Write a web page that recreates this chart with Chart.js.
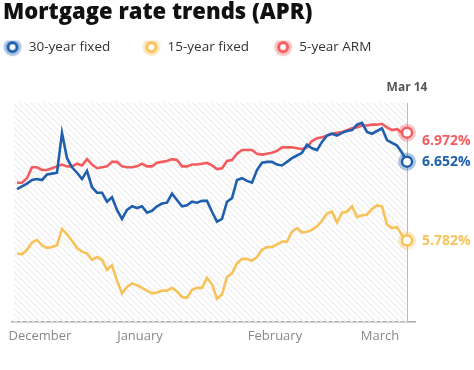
<!DOCTYPE html>
<html>
<head>
<meta charset="utf-8">
<script src="https://cdn.jsdelivr.net/npm/chart.js@4"></script>
<style>
  html, body { margin: 0; padding: 0; background: #fff; }
  #wrap { width: 474px; height: 370px; }
</style>
</head>
<body>
<div id="wrap"><canvas id="rates"></canvas></div>
<script>
// business days from Dec 1 to Mar 14
const rate30 = [6.35,6.38,6.41,6.45,6.46,6.45,6.51,6.52,6.53,6.97,
  6.69,6.59,6.53,6.46,6.55,6.37,6.31,6.31,6.21,6.26,
  6.12,6.02,6.12,6.16,6.14,6.16,6.09,6.11,6.16,6.19,
  6.20,6.30,6.23,6.16,6.17,6.21,6.20,6.22,6.22,6.10,
  5.99,6.02,6.21,6.25,6.45,6.47,6.44,6.42,6.56,6.64,
  6.65,6.65,6.62,6.61,6.65,6.69,6.72,6.75,6.84,6.80,
  6.78,6.87,6.94,6.96,6.94,6.97,6.99,7.00,7.06,7.08,
  6.98,6.96,6.99,7.02,6.89,6.86,6.83,6.75,6.652]
const rate15 = [5.64,5.63,5.68,5.76,5.79,5.73,5.70,5.71,5.73,5.91,
  5.85,5.78,5.70,5.66,5.64,5.57,5.60,5.57,5.46,5.51,
  5.34,5.20,5.27,5.31,5.29,5.26,5.23,5.20,5.21,5.23,
  5.23,5.26,5.22,5.16,5.15,5.24,5.26,5.26,5.37,5.30,
  5.14,5.19,5.38,5.42,5.53,5.58,5.58,5.56,5.60,5.68,
  5.71,5.71,5.74,5.77,5.77,5.88,5.92,5.87,5.88,5.90,
  5.94,6.00,6.08,6.10,5.98,6.09,6.10,6.16,6.04,6.06,
  6.07,6.13,6.17,6.16,5.96,5.92,5.93,5.84,5.782]
const rateArm = [6.42,6.42,6.47,6.59,6.59,6.56,6.56,6.58,6.60,6.62,
  6.60,6.60,6.63,6.61,6.68,6.62,6.58,6.59,6.60,6.65,
  6.65,6.60,6.59,6.59,6.60,6.63,6.60,6.60,6.64,6.65,
  6.66,6.68,6.67,6.60,6.60,6.62,6.62,6.63,6.64,6.61,
  6.57,6.58,6.66,6.67,6.74,6.78,6.78,6.78,6.74,6.73,
  6.74,6.75,6.77,6.81,6.81,6.81,6.80,6.79,6.81,6.88,
  6.91,6.92,6.94,6.96,6.97,6.98,7.00,7.02,7.03,7.05,
  7.05,7.06,7.06,7.07,7.03,7.00,7.01,6.97,6.972]
const days = rate30.map((v, i) => i)
const monthNames = ['December', 'January', 'February', 'March']
const monthAt = [4.6, 24.6, 51.6, 72.6]
const lastLabel = 'Mar 14'
const seriesNames = ['30-year fixed', '15-year fixed', '5-year ARM']
const colors = ['#1f5fae', '#f8c25a', '#f25c5e']
const last = days.length - 1

function makeDot(color){
  const c = document.createElement('canvas')
  c.width = 20
  c.height = 20
  const g = c.getContext('2d')
  g.globalAlpha = 0.35
  g.fillStyle = color
  g.beginPath(); g.arc(10, 10, 9, 0, 2 * Math.PI); g.fill()
  g.globalAlpha = 1
  g.lineWidth = 3
  g.strokeStyle = color
  g.fillStyle = '#fff'
  g.beginPath(); g.arc(10, 10, 4.5, 0, 2 * Math.PI); g.fill(); g.stroke()
  return c
}
const dots = colors.map(makeDot)
const gaps = ['         ', '       ', '']

function hatch(){
  const c = document.createElement('canvas')
  c.width = 6
  c.height = 6
  const g = c.getContext('2d')
  g.strokeStyle = '#f0f0f0'
  g.lineWidth = 1.5
  g.beginPath()
  g.moveTo(-1, -1); g.lineTo(7, 7)
  g.moveTo(-4, 2); g.lineTo(4, 10)
  g.moveTo(2, -4); g.lineTo(10, 4)
  g.stroke()
  return c
}

const backdrop = {
  id: 'backdrop',
  beforeDatasetsDraw(chart){
    const {ctx, chartArea, scales} = chart
    const xEnd = scales.x.getPixelForValue(last)
    ctx.save()
    ctx.fillStyle = ctx.createPattern(hatch(), 'repeat')
    ctx.fillRect(chartArea.left + 2, chartArea.top, xEnd - chartArea.left - 2, chartArea.bottom - chartArea.top)
    ctx.strokeStyle = '#bbb'
    ctx.lineWidth = 1
    ctx.beginPath()
    ctx.moveTo(Math.round(xEnd) + 0.5, chartArea.top)
    ctx.lineTo(Math.round(xEnd) + 0.5, chartArea.bottom)
    ctx.stroke()
    chart.data.datasets.forEach((ds, i) => {
      const pt = chart.getDatasetMeta(i).data[last]
      ctx.globalAlpha = 0.35
      ctx.fillStyle = ds.borderColor
      ctx.beginPath(); ctx.arc(pt.x, pt.y, 9, 0, 2 * Math.PI); ctx.fill()
    })
    ctx.restore()
  },
  afterDatasetsDraw(chart){
    const {ctx} = chart
    const nudge = [0, 0, 8]
    ctx.save()
    ctx.font = 'bold 14px "Open Sans"'
    ctx.textBaseline = 'middle'
    ctx.textAlign = 'left'
    chart.data.datasets.forEach((ds, i) => {
      const pt = chart.getDatasetMeta(i).data[last]
      ctx.fillStyle = ds.borderColor
      ctx.fillText(ds.data[last].toFixed(3) + '%', pt.x + 15, pt.y + nudge[i])
    })
    ctx.restore()
  }
}

new Chart('rates', {
  type: 'line',
  data: {
    labels: days,
    datasets: [rate30, rate15, rateArm].map((d, i) => ({
      label: seriesNames[i],
      data: d,
      borderColor: colors[i],
      borderWidth: 2.6,
      tension: 0,
      order: [0, 2, 1][i],
      pointRadius: ctx => ctx.dataIndex === last ? 5 : 0,
      pointBorderWidth: 2.5,
      pointBackgroundColor: '#fff',
      pointBorderColor: colors[i]
    }))
  },
  options: {
    maintainAspectRatio: false,
    animation: false,
    events: [],
    layout: { padding: { left: 3, right: 59, top: 0, bottom: 18 } },
    plugins: {
      title: {
        display: true,
        text: 'Mortgage rate trends (APR)',
        align: 'start',
        color: '#111',
        font: { family: '"Open Sans"', size: 22, weight: 800 },
        padding: { top: 0, bottom: 14 }
      },
      legend: {
        align: 'start',
        labels: {
          usePointStyle: true,
          pointStyleWidth: 19,
          padding: 0,
          color: '#333',
          font: { family: '"Open Sans"', size: 13.5 },
          generateLabels: chart => chart.data.datasets.map((ds, i) => ({
            text: ds.label + gaps[i],
            pointStyle: dots[i],
            fillStyle: '#fff',
            strokeStyle: ds.borderColor,
            lineWidth: 0,
            hidden: false,
            datasetIndex: i,
            fontColor: '#333'
          }))
        }
      },
      tooltip: { enabled: false }
    },
    scales: {
      x: {
        type: 'linear',
        min: -1,
        max: 79.6,
        afterBuildTicks: s => { s.ticks = monthAt.map(v => ({ value: v })) },
        afterFit: s => { s.height = 30 },
        grid: { display: false, drawTicks: false },
        border: { display: true, color: '#aaa', width: 1.5 },
        ticks: {
          autoSkip: false,
          maxRotation: 0,
          padding: 6,
          color: '#888',
          font: { family: '"Open Sans"', size: 13 },
          callback: (v, i) => monthNames[i]
        }
      },
      top: {
        type: 'linear',
        axis: 'x',
        position: 'top',
        min: -1,
        max: 79.6,
        afterBuildTicks: s => { s.ticks = [{ value: last }] },
        afterFit: s => { s.height = 39 },
        grid: { display: false, drawTicks: false },
        border: { display: false },
        ticks: {
          autoSkip: false,
          maxRotation: 0,
          padding: 8,
          color: '#555',
          font: { family: '"Open Sans"', size: 12, weight: 'bold' },
          callback: () => lastLabel
        }
      },
      y: {
        min: 4.884,
        max: 7.30,
        afterFit: s => { s.width = 9 },
        grid: { display: false, drawTicks: false },
        border: { display: false },
        ticks: { display: false }
      }
    }
  },
  plugins: [backdrop]
})
</script>
</body>
</html>
